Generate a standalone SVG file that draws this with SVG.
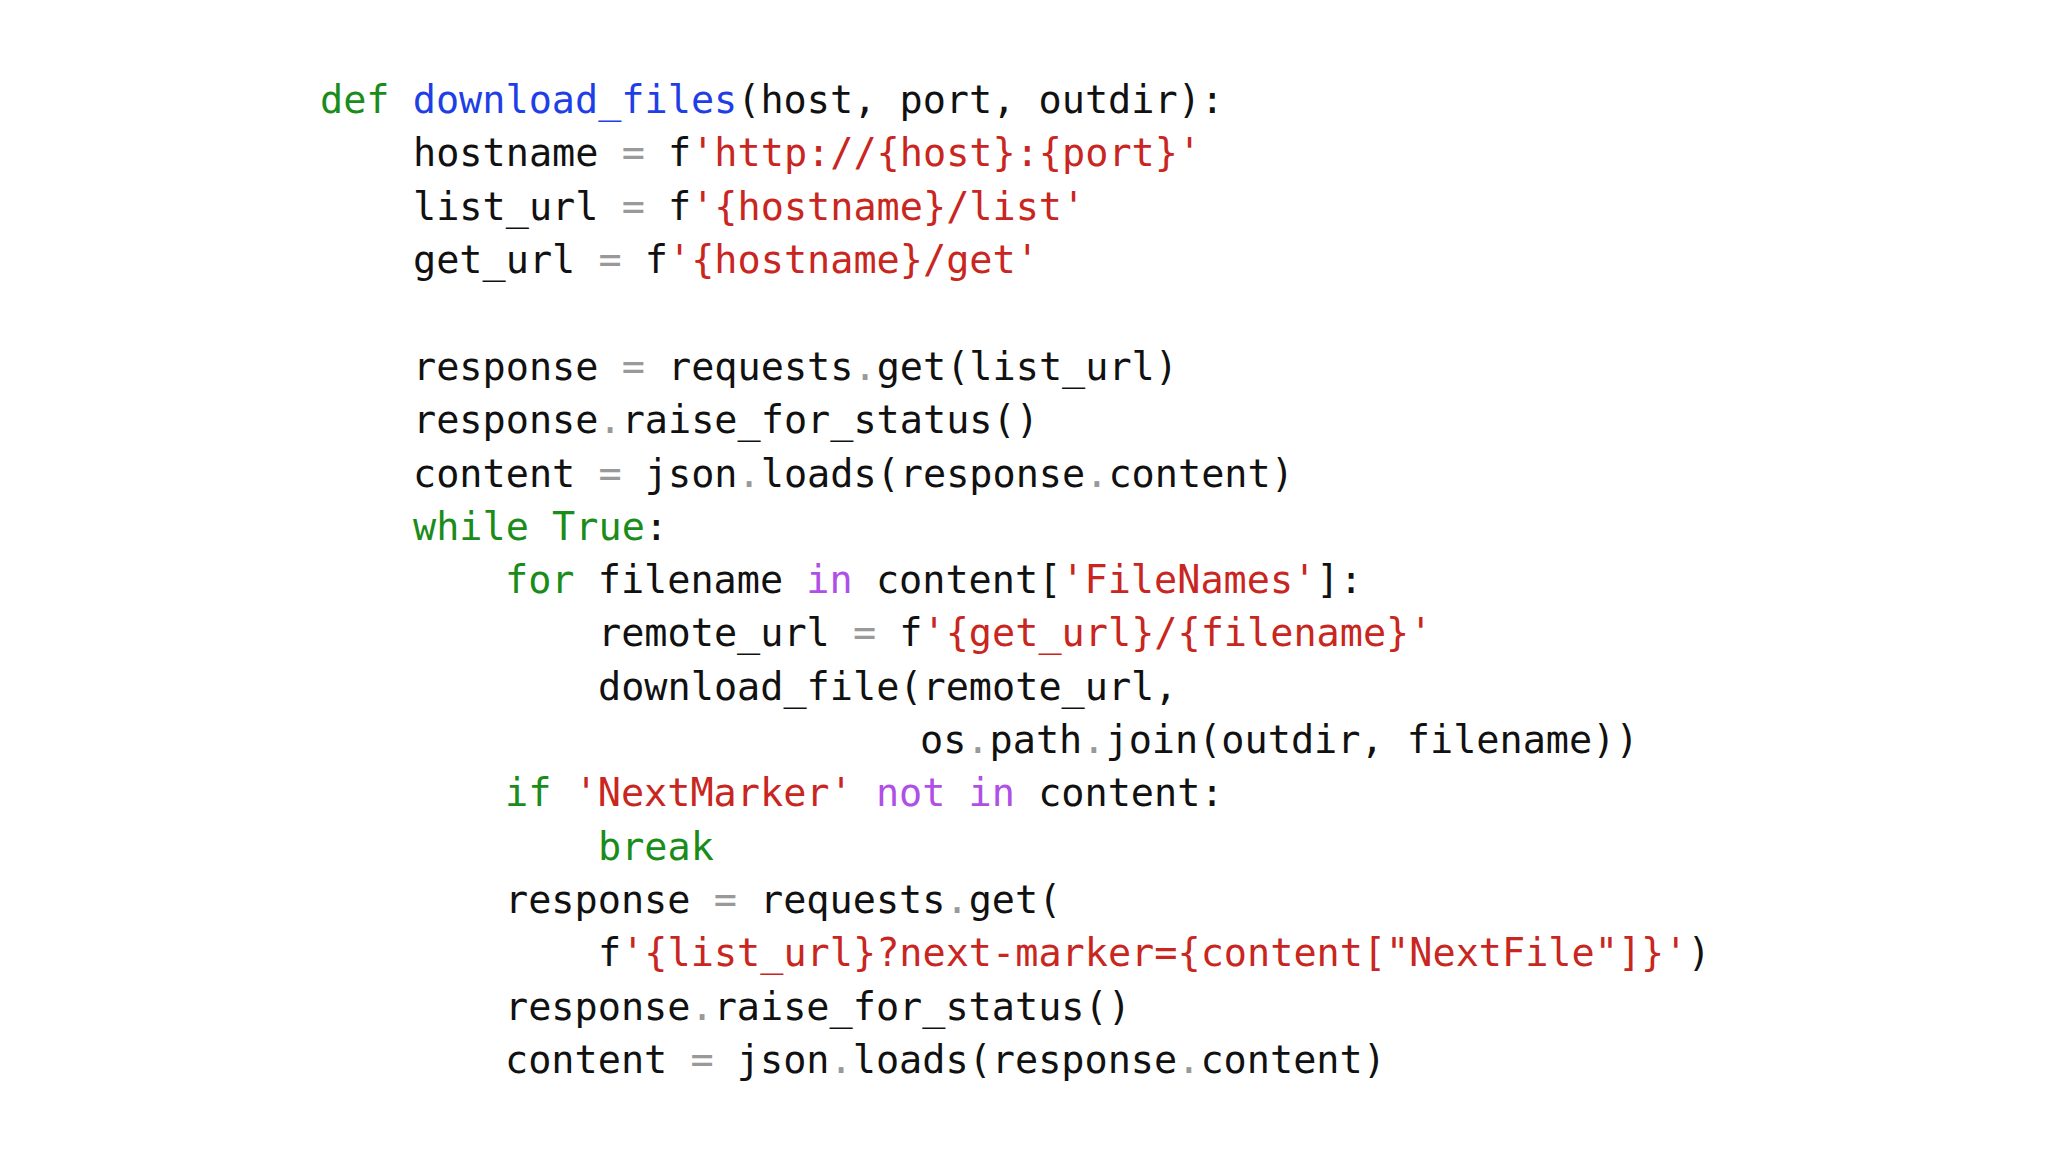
<svg xmlns="http://www.w3.org/2000/svg" width="2048" height="1152" viewBox="0 0 2048 1152">
<style>
text{font-family:"DejaVu Sans Mono","Liberation Mono",monospace;font-size:38.5px;fill:#111;white-space:pre}
.k{fill:#1a8c1a}.f{fill:#1f3fe6}.s{fill:#c8261e}.p{fill:#b04fe6}.g{fill:#999}
</style>
<rect width="2048" height="1152" fill="#fff"/>
<g id="code">
<text x="320" y="113"><tspan class="k">def</tspan> <tspan class="f">download_files</tspan>(host, port, outdir):</text>
<text x="413" y="166">hostname <tspan class="g">=</tspan> f<tspan class="s">'http://{host}:{port}'</tspan></text>
<text x="413" y="220">list_url <tspan class="g">=</tspan> f<tspan class="s">'{hostname}/list'</tspan></text>
<text x="413" y="273">get_url <tspan class="g">=</tspan> f<tspan class="s">'{hostname}/get'</tspan></text>
<text x="413" y="380">response <tspan class="g">=</tspan> requests<tspan class="g">.</tspan>get(list_url)</text>
<text x="413" y="433">response<tspan class="g">.</tspan>raise_for_status()</text>
<text x="413" y="487">content <tspan class="g">=</tspan> json<tspan class="g">.</tspan>loads(response<tspan class="g">.</tspan>content)</text>
<text x="413" y="540"><tspan class="k">while</tspan> <tspan class="k">True</tspan>:</text>
<text x="505" y="593"><tspan class="k">for</tspan> filename <tspan class="p">in</tspan> content[<tspan class="s">'FileNames'</tspan>]:</text>
<text x="598" y="646">remote_url <tspan class="g">=</tspan> f<tspan class="s">'{get_url}/{filename}'</tspan></text>
<text x="598" y="700">download_file(remote_url,</text>
<text x="920" y="753">os<tspan class="g">.</tspan>path<tspan class="g">.</tspan>join(outdir, filename))</text>
<text x="505" y="806"><tspan class="k">if</tspan> <tspan class="s">'NextMarker'</tspan> <tspan class="p">not in</tspan> content:</text>
<text x="598" y="860"><tspan class="k">break</tspan></text>
<text x="505" y="913">response <tspan class="g">=</tspan> requests<tspan class="g">.</tspan>get(</text>
<text x="598" y="966">f<tspan class="s">'{list_url}?next-marker={content["NextFile"]}'</tspan>)</text>
<text x="505" y="1020">response<tspan class="g">.</tspan>raise_for_status()</text>
<text x="505" y="1073">content <tspan class="g">=</tspan> json<tspan class="g">.</tspan>loads(response<tspan class="g">.</tspan>content)</text>
</g>
</svg>
